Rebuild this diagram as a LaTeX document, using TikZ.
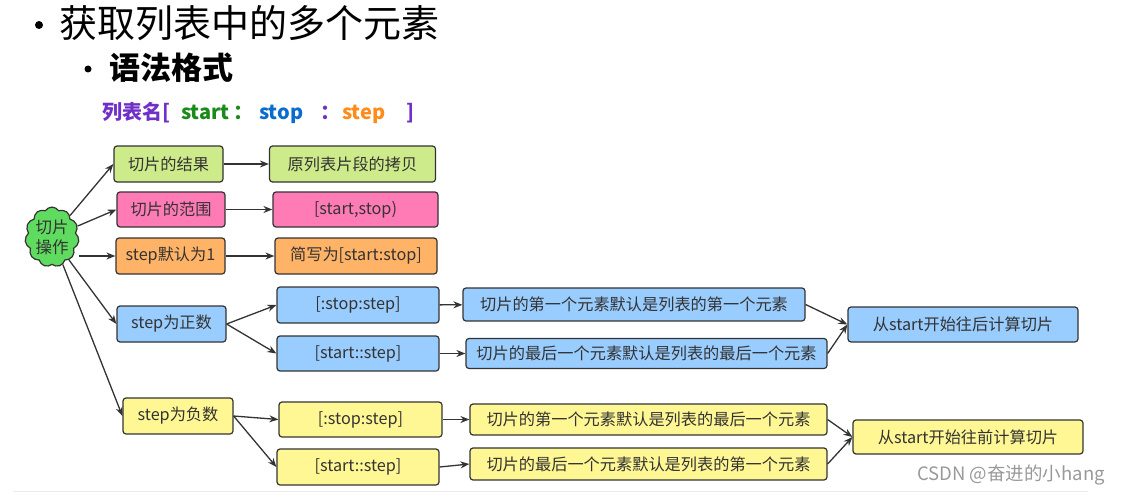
\documentclass[tikz,border=0pt]{standalone}
\usepackage{fontspec}
\setmainfont{Noto Sans CJK SC}
\usetikzlibrary{arrows.meta,shapes.symbols}
\definecolor{cgreen}{HTML}{CDEB8B}
\definecolor{cpink}{HTML}{FF7BB6}
\definecolor{corange}{HTML}{FFB366}
\definecolor{cblue}{HTML}{99CCFF}
\definecolor{cyellow}{HTML}{FFF694}
\definecolor{ccloud}{HTML}{5FDB5F}
\definecolor{cline}{HTML}{333333}
\definecolor{tpurple}{HTML}{7030C8}
\definecolor{tgreen}{HTML}{1A8A1A}
\definecolor{tblue}{HTML}{0A6CCC}
\definecolor{torange}{HTML}{FF8C1A}
\tikzset{
  box/.style={draw=cline, line width=1.2pt, rounded corners=3pt, text=cline,
    font=\fontsize{16.2}{19}\selectfont, inner sep=0pt},
  arr/.style={draw=cline, line width=1.3pt, -{Stealth[length=9pt,width=7pt]}},
  syn/.style={anchor=base west, inner sep=0pt, font=\fontsize{20}{22}\selectfont\bfseries},
  bul/.style={circle, fill=black, inner sep=0pt},
}
\begin{document}
\begin{tikzpicture}[x=1pt,y=-1pt]
\useasboundingbox (0,0) rectangle (1124,495);
% titles
\node[bul, minimum size=8pt] (b1) at (39,25) {};
\node[anchor=west,inner sep=0pt] (t1) at (59,23) {\fontsize{38}{40}\selectfont 获取列表中的多个元素};
\node[bul, minimum size=7pt] (b2) at (88,69) {};
\node[anchor=west,inner sep=0pt] (t2) at (109,68) {\fontsize{31}{34}\selectfont\bfseries 语法格式};
% syntax line
\node[syn, text=tpurple] (s_name) at (102,119) {列表名};
\node[syn, text=tpurple] (s_lb) at (162,119) {[};
\node[syn, text=tgreen] (s_start) at (181,119) {start};
\node[syn, text=tgreen] (s_c1) at (233,119) {：};
\node[syn, text=tblue] (s_stop) at (259,119) {stop};
\node[syn, text=tpurple] (s_c2) at (320,119) {：};
\node[syn, text=torange] (s_step) at (342,119) {step};
\node[syn, text=tpurple] (s_rb) at (406,119) {]};
% cloud
\node[cloud, cloud puffs=11, cloud puff arc=115, aspect=0.85, draw=cline, line width=1.2pt,
  fill=ccloud, text=cline, minimum width=54pt, minimum height=58pt, inner sep=0pt,
  align=center, font=\fontsize{16.5}{20}\selectfont] (cl) at (52,237) {切片\\操作};
% row 1-3
\node[box, fill=cgreen, minimum width=109pt, minimum height=36pt] (a1) at (168.5,164) {切片的结果};
\node[box, fill=cgreen, minimum width=166pt, minimum height=36pt] (a2) at (352.5,164) {原列表片段的拷贝};
\node[box, fill=cpink, minimum width=108pt, minimum height=35pt] (r1) at (171,209.5) {切片的范围};
\node[box, fill=cpink, minimum width=165pt, minimum height=35pt] (r2) at (355.5,209.5) {[start,stop)};
\node[box, fill=corange, minimum width=109pt, minimum height=36pt] (s1) at (170.5,256) {step默认为1};
\node[box, fill=corange, minimum width=162pt, minimum height=36pt] (s2) at (356,256) {简写为[start:stop]};
% positive
\node[box, fill=cblue, minimum width=109pt, minimum height=36pt] (p) at (171.5,324) {step为正数};
\node[box, fill=cblue, minimum width=162pt, minimum height=36pt] (p1) at (358,305) {[:stop:step]};
\node[box, fill=cblue, minimum width=162pt, minimum height=35pt] (p2) at (358,353.5) {[start::step]};
\node[box, fill=cblue, minimum width=342pt, minimum height=33pt] (p1l) at (634,304.5) {切片的第一个元素默认是列表的第一个元素};
\node[box, fill=cblue, minimum width=361pt, minimum height=30pt] (p2l) at (646.5,353.5) {切片的最后一个元素默认是列表的最后一个元素};
\node[box, fill=cblue, minimum width=230pt, minimum height=35pt] (pr) at (963,324.5) {从start开始往后计算切片};
% negative
\node[box, fill=cyellow, minimum width=110pt, minimum height=36pt] (n) at (178,416) {step为负数};
\node[box, fill=cyellow, minimum width=163pt, minimum height=35pt] (n1) at (360.5,419.5) {[:stop:step]};
\node[box, fill=cyellow, minimum width=162pt, minimum height=36pt] (n2) at (358,467) {[start::step]};
\node[box, fill=cyellow, minimum width=357pt, minimum height=31pt] (n1l) at (648.5,419.5) {切片的第一个元素默认是列表的最后一个元素};
\node[box, fill=cyellow, minimum width=357pt, minimum height=32pt] (n2l) at (648.5,464) {切片的最后一个元素默认是列表的第一个元素};
\node[box, fill=cyellow, minimum width=230pt, minimum height=34pt] (nr) at (968,437) {从start开始往前计算切片};
% arrows
\draw[arr] (cl) -- (a1.west);
\draw[arr] (cl) -- (r1.west);
\draw[arr] (cl.east |- s1.west) -- (s1.west);
\draw[arr] (cl) -- (p.west);
\draw[arr] (cl) -- (n.west);
\draw[arr] (a1) -- (a2);
\draw[arr] (r1) -- (r2);
\draw[arr] (s1) -- (s2);
\draw[arr] (p.east) -- (p1.west);
\draw[arr] (p.east) -- (p2.west);
\draw[arr] (p1) -- (p1l);
\draw[arr] (p2) -- (p2l);
\draw[arr] (p1l.east) -- (pr.west);
\draw[arr] (p2l.east) -- (pr.west);
\draw[arr] (n.east) -- (n1.west);
\draw[arr] (n.east) -- (n2.west);
\draw[arr] (n1) -- (n1l);
\draw[arr] (n2.east) -- (n2l.west);
\draw[arr] (n1l.east) -- (nr.west);
\draw[arr] (n2l.east) -- (nr.west);
% watermark and rule
\node[text=black!40, font=\fontsize{18.5}{21}\selectfont] (wm) at (1011,475) {CSDN @奋进的小hang};
\coordinate (ruleA) at (13,491);
\coordinate (ruleB) at (1088,491);
\draw[black!8, line width=1pt] (ruleA) -- (ruleB);
\end{tikzpicture}
\end{document}
